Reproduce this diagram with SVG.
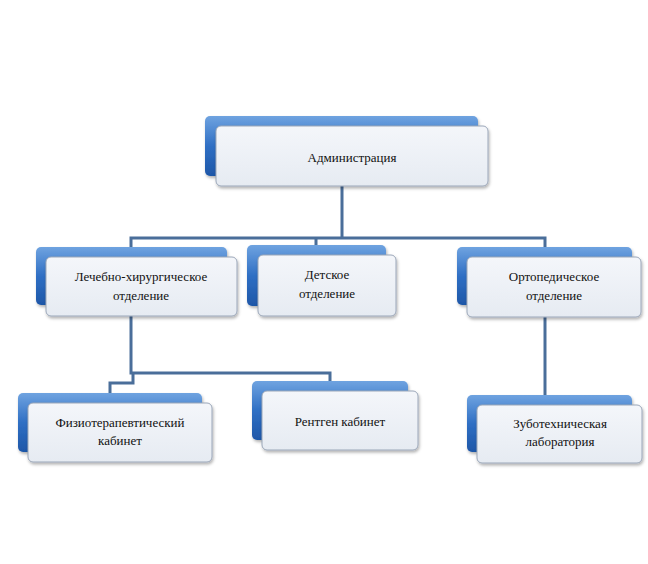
<svg xmlns="http://www.w3.org/2000/svg" width="648" height="564" viewBox="0 0 648 564">
<defs>
<linearGradient id="bl" x1="0" y1="0" x2="0" y2="1"><stop offset="0" stop-color="#6fa3e0"/><stop offset="0.5" stop-color="#2f6fc4"/><stop offset="1" stop-color="#1e57a8"/></linearGradient>
<linearGradient id="wh" x1="0" y1="0" x2="0" y2="1"><stop offset="0" stop-color="#f4f6fa"/><stop offset="1" stop-color="#e6ebf2"/></linearGradient>
<filter id="sh" x="-10%" y="-10%" width="130%" height="140%"><feDropShadow dx="1" dy="2" stdDeviation="1.5" flood-color="#000" flood-opacity="0.3"/></filter>
</defs>
<style>
.b{fill:url(#bl);filter:url(#sh)}
.w{fill:url(#wh);stroke:#9aa6b8;stroke-width:1;filter:url(#sh)}
text{font-family:"Liberation Serif",serif;fill:#111;text-anchor:middle;font-size:13px}
.c{fill:none;stroke:#4a6e9a;stroke-width:3}
</style>
<rect width="648" height="564" fill="#fff"/>
<g id="connectors">
<path class="c" d="M342 186V238M131 247V238H545V247M316 245V238"/>
<path class="c" d="M131 316V373H330V381M133 373V383H110V393"/>
<path class="c" d="M545 317V395"/>
</g>
<g id="admin"><rect class="b" x="205" y="116" width="273" height="60" rx="5"/><rect class="w" x="216" y="126" width="272" height="60" rx="5"/><text x="352" y="162" font-size="17">Администрация</text></g>
<g id="n1"><rect class="b" x="36" y="247" width="191" height="58" rx="5"/><rect class="w" x="46" y="257" width="191" height="59" rx="5"/><text x="141" y="281">Лечебно-хирургическое</text><text x="141" y="300">отделение</text></g>
<g id="n2"><rect class="b" x="247" y="245" width="139" height="61" rx="5"/><rect class="w" x="258" y="255" width="138" height="61" rx="5"/><text x="327" y="279">Детское</text><text x="327" y="298">отделение</text></g>
<g id="n3"><rect class="b" x="457" y="247" width="175" height="58" rx="5"/><rect class="w" x="467" y="257" width="174" height="60" rx="5"/><text x="554" y="281">Ортопедическое</text><text x="554" y="300">отделение</text></g>
<g id="n4"><rect class="b" x="18" y="393" width="184" height="59" rx="5"/><rect class="w" x="28" y="403" width="184" height="59" rx="5"/><text x="120" y="427">Физиотерапевтический</text><text x="120" y="445">кабинет</text></g>
<g id="n5"><rect class="b" x="252" y="381" width="156" height="59" rx="5"/><rect class="w" x="262" y="391" width="156" height="59" rx="5"/><text x="340" y="426">Рентген кабинет</text></g>
<g id="n6"><rect class="b" x="467" y="395" width="165" height="57" rx="5"/><rect class="w" x="477" y="405" width="165" height="58" rx="5"/><text x="560" y="428">Зуботехническая</text><text x="560" y="446">лаборатория</text></g>
</svg>
